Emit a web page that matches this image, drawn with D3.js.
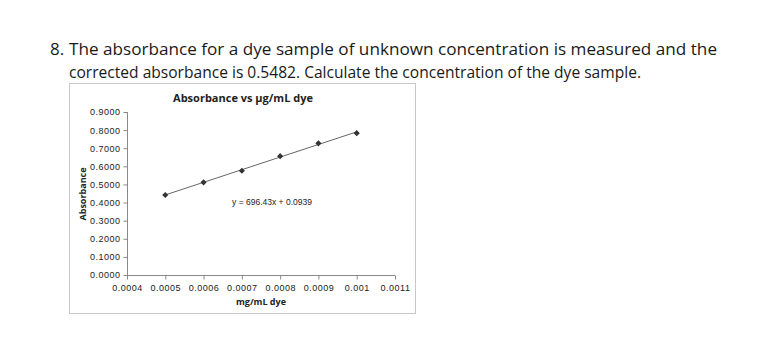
<!DOCTYPE html>
<meta charset="UTF-8">
<html lang="en">
<head><link rel="icon" href="data:,"></head>
<style>
body { margin: 0; background: #fff; }
svg text { fill: #222; }
.q { font-family: "Open Sans", sans-serif; font-size: 17px; fill: #1a1a1a; }
.tick text { font-family: "Liberation Sans", sans-serif; font-size: 9px; letter-spacing: 0.5px; fill: #222; }
.ttl { font-family: "Open Sans", sans-serif; font-weight: bold; font-size: 11px; }
.axt { font-family: "Open Sans", sans-serif; font-weight: bold; font-size: 9px; }
.eq { font-family: "Liberation Sans", sans-serif; font-size: 8.5px; }
</style>
<script src="https://unpkg.com/d3@7.0.1/dist/d3.min.js"></script>
<body>
<svg id="view"></svg>
</body>
<script>
const concs = [0.0005, 0.0006, 0.0007, 0.0008, 0.0009, 0.0010];
const absorb = [0.4420, 0.5115, 0.5755, 0.6560, 0.7270, 0.7830];
const fit = { slope: 696.43, icept: 0.0939 };
const xTicks = [0.0004, 0.0005, 0.0006, 0.0007, 0.0008, 0.0009, 0.0010, 0.0011];
const xLabels = ["0.0004", "0.0005", "0.0006", "0.0007", "0.0008", "0.0009", "0.001", "0.0011"];
const yTicks = [0, 0.1, 0.2, 0.3, 0.4, 0.5, 0.6, 0.7, 0.8, 0.9];

const svg = d3.select("svg#view").attr("width", 768).attr("height", 362);

// question text
svg.append("text").attr("class", "q").attr("x", 50).attr("y", 55).text("8.");
svg.append("text").attr("class", "q").attr("x", 69).attr("y", 55)
   .attr("textLength", 648).attr("lengthAdjust", "spacingAndGlyphs")
   .text("The absorbance for a dye sample of unknown concentration is measured and the");
svg.append("text").attr("class", "q").attr("x", 69).attr("y", 78)
   .attr("textLength", 572).attr("lengthAdjust", "spacingAndGlyphs")
   .text("corrected absorbance is 0.5482. Calculate the concentration of the dye sample.");

// chart frame
svg.append("rect").attr("x", 69.5).attr("y", 83.5).attr("width", 346).attr("height", 230)
   .attr("fill", "#fff").attr("stroke", "#c8c8c8");

const x = d3.scaleLinear().domain([0.0004, 0.0011]).range([127, 395]);
const y = d3.scaleLinear().domain([0, 0.9]).range([275, 112]);

const xAxis = svg.append("g").attr("transform", "translate(0,275.5)")
  .call(d3.axisBottom(x).tickValues(xTicks).tickSize(4).tickPadding(5)
        .tickFormat((d, i) => xLabels[i]));
const yAxis = svg.append("g").attr("transform", "translate(127.5,0)")
  .call(d3.axisLeft(y).tickValues(yTicks).tickSize(4).tickPadding(3)
        .tickFormat(d3.format(".4f")));
[xAxis, yAxis].forEach(a => {
  a.selectAll("path, line").attr("stroke", "#8a8a8a");
  a.select(".domain").attr("d", a === xAxis ? "M127,0H395" : "M0,275H0V112");
});

svg.append("text").attr("class", "ttl").attr("x", 243).attr("y", 102)
   .attr("text-anchor", "middle").text("Absorbance vs µg/mL dye");
svg.append("text").attr("class", "axt").attr("x", 261).attr("y", 305)
   .attr("text-anchor", "middle").text("mg/mL dye");
svg.append("text").attr("class", "axt").attr("text-anchor", "middle")
   .attr("transform", "translate(86,194) rotate(-90)").text("Absorbance");

// trendline
const x0 = d3.min(concs), x1 = d3.max(concs);
svg.append("line")
   .attr("x1", x(x0)).attr("y1", y(fit.slope * x0 + fit.icept))
   .attr("x2", x(x1)).attr("y2", y(fit.slope * x1 + fit.icept))
   .attr("stroke", "#666").attr("stroke-width", 1);

svg.append("g").selectAll("path").data(concs).enter().append("path")
   .attr("d", d3.symbol().type(d3.symbolDiamond2).size(24))
   .attr("transform", (d, i) => `translate(${x(d)},${y(absorb[i])})`)
   .attr("fill", "#333");

svg.append("text").attr("class", "eq").attr("x", 272).attr("y", 205)
   .attr("text-anchor", "middle").text(`y = ${fit.slope}x + ${fit.icept}`);
</script>
</html>
